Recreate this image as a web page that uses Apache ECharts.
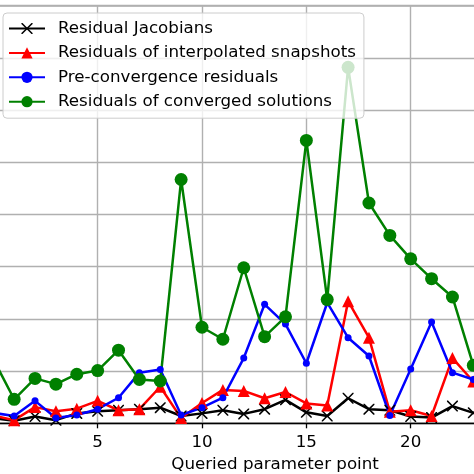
<!DOCTYPE html>
<html>
<head>
<meta charset="utf-8">
<script src="https://cdn.jsdelivr.net/npm/echarts@6/dist/echarts.min.js"></script>
<style>
html, body { margin: 0; padding: 0; background: #fff; }
#contain { width: 474px; height: 474px; }
</style>
</head>
<body>
<div id="contain"></div>
<script>
// queried parameter points
var points = [0, 1, 2, 3, 4, 5, 6, 7, 8, 9, 10, 11, 12, 13, 14, 15, 16, 17, 18, 19, 20, 21, 22, 23];
var xTicks = [5, 10, 15, 20];

var residJac = [0.1, 0.05, 0.13, 0.06, 0.19, 0.23, 0.25, 0.27, 0.3, 0.14, 0.19, 0.25, 0.18, 0.27, 0.45, 0.21, 0.14, 0.48, 0.27, 0.25, 0.13, 0.11, 0.33, 0.2];
var residInterp = [0.15, 0.06, 0.31, 0.23, 0.28, 0.43, 0.25, 0.27, 0.7, 0.1, 0.39, 0.64, 0.62, 0.48, 0.6, 0.38, 0.34, 2.34, 1.64, 0.22, 0.25, 0.14, 1.25, 0.8];
var residPre = [0.2, 0.14, 0.43, 0.1, 0.16, 0.27, 0.49, 0.97, 1.03, 0.16, 0.3, 0.49, 1.25, 2.28, 1.9, 1.15, 2.31, 1.64, 1.29, 0.15, 1.04, 1.94, 0.97, 0.84];
var residConv = [1.23, 0.46, 0.86, 0.75, 0.94, 1.01, 1.4, 0.84, 0.81, 4.67, 1.84, 1.61, 2.98, 1.66, 2.04, 5.42, 2.37, 6.82, 4.22, 3.6, 3.15, 2.77, 2.42, 1.11];

var names = ['Residual Jacobians', 'Residuals of interpolated snapshots', 'Pre-convergence residuals', 'Residuals of converged solutions'];

var crossPath = 'path://M0,0 L2,0 L10,8 L18,0 L20,0 L20,2 L12,10 L20,18 L20,20 L18,20 L10,12 L2,20 L0,20 L0,18 L8,10 L0,2 Z';

function pairs(vals) {
    var out = [];
    for (var i = 0; i < points.length; i++) {
        out.push([points[i], vals[i]]);
    }
    return out;
}

function mkSeries(name, vals, color, symbol, size) {
    return {
        name: name,
        type: 'line',
        data: pairs(vals),
        symbol: symbol,
        symbolSize: size,
        showAllSymbol: true,
        lineStyle: { color: color, width: 2.5 },
        itemStyle: { color: color },
        emphasis: { disabled: true },
        animation: false
    };
}

var font = 'DejaVu Sans';
var myChart = echarts.init(document.getElementById('contain'), null, { renderer: 'canvas' });
var option = {
    animation: false,
    grid: {
        left: -6.7,
        width: 563.5,
        top: 5.7,
        height: 417.6,
        outerBoundsMode: 'none',
        containLabel: false,
        show: true,
        borderColor: '#000',
        borderWidth: 1.3,
        backgroundColor: 'transparent'
    },
    legend: {
        orient: 'vertical',
        left: 3,
        top: 13,
        padding: [7, 8, 8, 5],
        itemWidth: 36,
        itemHeight: 14,
        itemGap: 7.4,
        backgroundColor: 'rgba(255,255,255,0.8)',
        borderColor: '#cccccc',
        borderWidth: 1,
        borderRadius: 4,
        textStyle: { fontFamily: font, fontSize: 16.7, color: '#000', padding: [0, 0, 0, 8] },
        data: names
    },
    xAxis: {
        type: 'value',
        min: 0,
        max: 27,
        interval: 5,
        name: 'Queried parameter point',
        nameLocation: 'middle',
        nameGap: 33,
        nameTextStyle: { fontFamily: font, fontSize: 16.7, color: '#000' },
        axisLine: { lineStyle: { color: '#000', width: 1.3 } },
        axisTick: { show: true, length: 5, lineStyle: { color: '#000', width: 1.3 } },
        axisLabel: {
            fontFamily: font, fontSize: 16.7, color: '#000', margin: 11,
            formatter: function (v) { return xTicks.indexOf(v) > -1 ? String(v) : ''; }
        },
        splitLine: { show: true, lineStyle: { color: '#b0b0b0', width: 1.4 } }
    },
    yAxis: {
        type: 'value',
        min: 0,
        max: 8,
        interval: 1,
        axisLine: { show: false },
        axisTick: { show: false },
        axisLabel: { show: false },
        splitLine: { show: true, lineStyle: { color: '#b0b0b0', width: 1.4 } }
    },
    series: [
        mkSeries(names[0], residJac, '#000000', crossPath, 11),
        mkSeries(names[1], residInterp, '#ff0000', 'triangle', 12),
        mkSeries(names[2], residPre, '#0000ff', 'circle', 7),
        mkSeries(names[3], residConv, '#008000', 'circle', 13)
    ]
};
myChart.setOption(option);
</script>
</body>
</html>
